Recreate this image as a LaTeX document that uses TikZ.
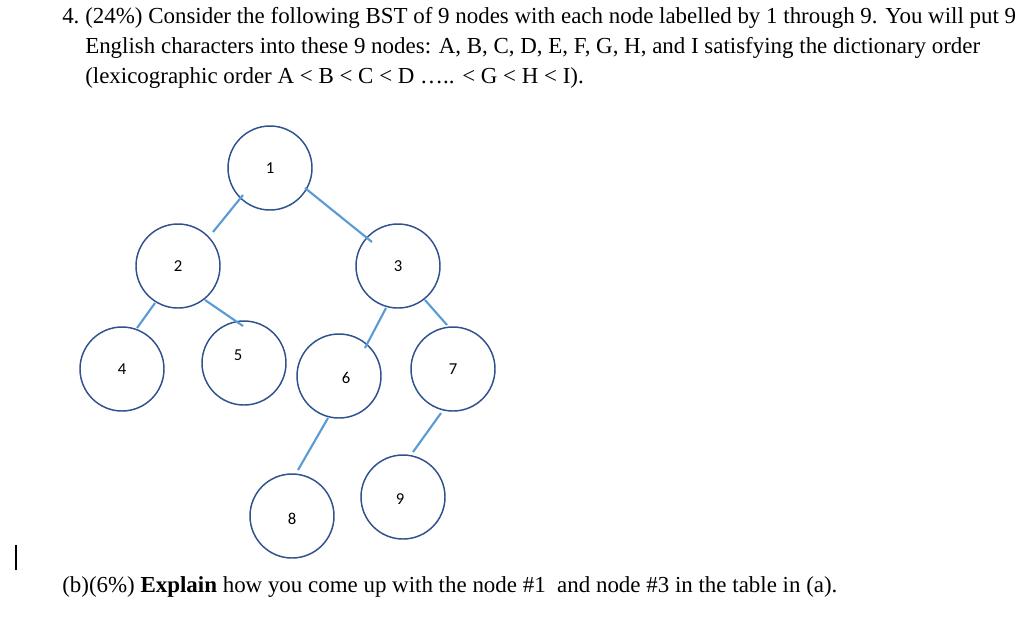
\documentclass[tikz,border=0pt]{standalone}
\usepackage{fontspec}
\setmainfont{Liberation Serif}
\newfontfamily\numfont{Carlito}
\definecolor{cdark}{RGB}{47,82,143}
\definecolor{clight}{RGB}{91,155,213}
\begin{document}
\begin{tikzpicture}[x=0.75pt,y=-0.75pt,
  num/.style={font=\numfont\fontsize{12.5}{14}\selectfont},
  circ/.style={circle,draw=cdark,line width=1.1pt,minimum size=84*0.75pt,inner sep=0pt,num},
  edge/.style={draw=clight,line width=1.6pt},
  txt/.style={anchor=base west,inner sep=0pt,font=\fontsize{17.2}{20}\selectfont}]
\useasboundingbox (0,0) rectangle (1030,619);
\node[circ] (n1) at (270,168) {1};
\node[circ] (n2) at (178,266) {2};
\node[circ] (n3) at (398,266) {3};
\node[circ] (n4) at (122,369) {4};
\node[circ] (n5) at (244,363) {};
\node[circ] (n6) at (339,376) {};
\node[circ] (n7) at (453,369) {7};
\node[circ] (n8) at (292,516) {};
\node[circ] (n9) at (403,497) {};
\node[num] (l5) at (238,355) {5};
\node[num] (l6) at (346,378) {6};
\node[num] (l8) at (292,519) {8};
\node[num] (l9) at (400,499) {9};
\coordinate (a1) at (243,195); \coordinate (b1) at (213,232);
\coordinate (a2) at (305,188); \coordinate (b2) at (372,242);
\coordinate (a3) at (155,303); \coordinate (b3) at (137,328);
\coordinate (a4) at (205,300); \coordinate (b4) at (243,326);
\coordinate (a5) at (386,308); \coordinate (b5) at (365,348);
\coordinate (a6) at (425,300); \coordinate (b6) at (447,325);
\coordinate (a7) at (328,418); \coordinate (b7) at (298,470);
\coordinate (a8) at (441,413); \coordinate (b8) at (413,452);
\foreach \i in {1,...,8}{\draw[edge] (a\i) -- (b\i);}
\node[txt] (t0) at (62,23) {4.};
\node[txt] (t1) at (85,23) {(24\%) Consider the following BST of 9 nodes with each node labelled by 1 through 9. You will put 9};
\node[txt] (t2) at (85,53) {English characters into these 9 nodes: A, B, C, D, E, F, G, H, and I satisfying the dictionary order};
\node[txt] (t3) at (85,83) {(lexicographic order A < B < C < D ….. < G < H < I).};
\node[txt] (t4) at (62,592) {(b)(6\%) \textbf{Explain} how you come up with the node \#1\ \ and node \#3 in the table in (a).};
\coordinate (v1) at (16,545); \coordinate (v2) at (16,570);
\draw[line width=0.8pt] (v1) -- (v2);
\end{tikzpicture}
\end{document}
